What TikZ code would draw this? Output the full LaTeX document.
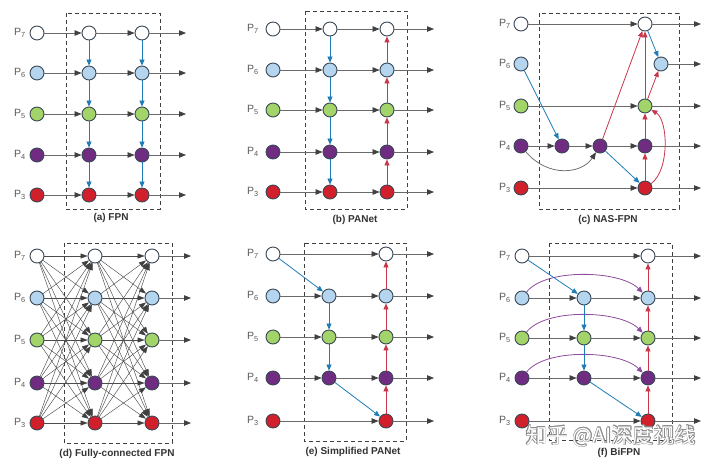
\documentclass[tikz,border=0pt]{standalone}
\usepackage{fontspec}
\setmainfont{Liberation Sans}
\newfontfamily\cjk{Noto Sans CJK SC}
\usetikzlibrary{arrows.meta}
\definecolor{ndedge}{HTML}{3A4856}
\definecolor{lblue}{HTML}{B5D5EF}
\definecolor{lgreen}{HTML}{A3D46A}
\definecolor{dpurple}{HTML}{6F2C80}
\definecolor{dred}{HTML}{D11F2C}
\definecolor{arrgray}{HTML}{6A6A6A}
\definecolor{arrblue}{HTML}{1F7DB6}
\definecolor{arrred}{HTML}{C8384A}
\definecolor{arrpurple}{HTML}{8E4C9E}
\definecolor{labgray}{HTML}{5A5A5A}
\tikzset{
  nd/.style={circle,draw=ndedge,line width=0.9pt,minimum size=14pt,inner sep=0pt},
  c7/.style={fill=white},
  c6/.style={fill=lblue},
  c5/.style={fill=lgreen},
  c4/.style={fill=dpurple},
  c3/.style={fill=dred},
  ar/.style={draw=arrgray,line width=0.75pt,-{Triangle[length=7pt,width=5.5pt,color=black!75]}},
  fc/.style={draw=black!70,line width=0.45pt,-{Triangle[length=7pt,width=5pt,color=black!75]}},
  bl/.style={draw=arrblue,line width=0.8pt,-{Triangle[length=6pt,width=5pt,color=arrblue]}},
  rd/.style={draw=arrred,line width=0.8pt,-{Triangle[length=6pt,width=5pt,color=arrred]}},
  pp/.style={draw=arrpurple,line width=0.8pt,-{Triangle[length=6pt,width=5pt,color=arrpurple]}},
  cg/.style={draw=arrgray,line width=0.75pt,-{Triangle[length=7pt,width=5.5pt,color=black!75]}},
  box/.style={draw=black!75,line width=0.7pt,dash pattern=on 4pt off 3pt},
  lab/.style={text=labgray,font=\fontsize{10.5}{12}\selectfont,inner sep=0pt},
  captxt/.style={text=black!80,font=\bfseries\fontsize{10}{12}\selectfont,inner sep=0pt},
  wm/.style={font=\cjk\fontsize{21}{24}\selectfont,inner sep=0pt},
}
\begin{document}
\begin{tikzpicture}[x=1pt,y=-1pt]
\useasboundingbox (0,0) rectangle (716,467);
\fill[white] (0,0) rectangle (716,467);

% ---------------- (a) FPN
\draw[box] (66,13) rectangle (160,209);
\foreach \n/\y/\c in {7/33/c7,6/73/c6,5/114/c5,4/155/c4,3/195/c3}{
  \node[lab] (aL\n) at (20,\y) {P\textsubscript{\n}};
  \node[nd,\c] (aI\n) at (37,\y) {};
  \node[nd,\c] (aA\n) at (89,\y) {};
  \node[nd,\c] (aB\n) at (142,\y) {};
  \coordinate (aE\n) at (186,\y);
  \draw[ar] (aI\n) -- (aA\n);
  \draw[ar] (aA\n) -- (aB\n);
  \draw[ar] (aB\n) -- (aE\n);
}
\foreach \u/\d in {7/6,6/5,5/4,4/3}{
  \draw[bl] (aA\u) -- (aA\d);
  \draw[bl] (aB\u) -- (aB\d);
}
\node[captxt] (aC) at (111,218) {(a) FPN};

% ---------------- (b) PANet
\draw[box] (305,11) rectangle (407,209);
\foreach \n/\y/\c in {7/29/c7,6/70/c6,5/110/c5,4/152/c4,3/192/c3}{
  \node[lab] (bL\n) at (253,\y) {P\textsubscript{\n}};
  \node[nd,\c] (bI\n) at (273,\y) {};
  \node[nd,\c] (bA\n) at (330,\y) {};
  \node[nd,\c] (bB\n) at (387,\y) {};
  \coordinate (bE\n) at (434,\y);
  \draw[ar] (bI\n) -- (bA\n);
  \draw[ar] (bA\n) -- (bB\n);
  \draw[ar] (bB\n) -- (bE\n);
}
\foreach \u/\d in {7/6,6/5,5/4,4/3}{
  \draw[bl] (bA\u) -- (bA\d);
  \draw[rd] (bB\d) -- (bB\u);
}
\node[captxt] (bC) at (355,220) {(b) PANet};

% ---------------- (c) NAS-FPN
\draw[box] (539,13) rectangle (679,209);
\foreach \n/\y/\c in {7/24/c7,6/64/c6,5/106/c5,4/146/c4,3/188/c3}{
  \node[lab] (cL\n) at (505,\y) {P\textsubscript{\n}};
  \node[nd,\c] (cI\n) at (521,\y) {};
  \coordinate (cE\n) at (701,\y);
}
\node[nd,c4] (cM1) at (562,146) {};
\node[nd,c4] (cM2) at (600,146) {};
\node[nd,c7] (cO7) at (645,24) {};
\node[nd,c6] (cO6) at (661,64) {};
\node[nd,c5] (cO5) at (645,106) {};
\node[nd,c4] (cO4) at (645,146) {};
\node[nd,c3] (cO3) at (645,188) {};
\draw[ar] (cI7) -- (cO7);
\draw[ar] (cI5) -- (cO5);
\draw[ar] (cI3) -- (cO3);
\draw[ar] (cI4) -- (cM1);
\draw[ar] (cM1) -- (cM2);
\draw[ar] (cM2) -- (cO4);
\draw[cg] (cI4) .. controls (548,178) and (582,174) .. (cM2);
\draw[bl] (cI6) -- (cM1);
\draw[bl] (cM2) -- (cO3);
\draw[rd] (cM2) -- (cO7);
\draw[rd] (cO3) -- (cO4);
\draw[rd] (cO4) -- (cO5);
\draw[rd] (cO5) -- (cO7);
\draw[rd] (cO5) -- (cO6);
\draw[bl] (cO7) -- (cO6);
\draw[rd] (cO3) .. controls (670,170) and (668,120) .. (cO5);
\draw[ar] (cO7) -- (cE7);
\draw[ar] (cO6) -- (cE6);
\draw[ar] (cO5) -- (cE5);
\draw[ar] (cO4) -- (cE4);
\draw[ar] (cO3) -- (cE3);
\node[captxt] (cC) at (608,220) {(c) NAS-FPN};

% ---------------- (d) Fully-connected FPN
\draw[box] (64,243) rectangle (172,443);
\foreach \n/\y/\c in {7/256/c7,6/298/c6,5/340/c5,4/383/c4,3/423/c3}{
  \node[lab] (dL\n) at (20,\y) {P\textsubscript{\n}};
  \node[nd,\c] (dI\n) at (37,\y) {};
  \node[nd,\c] (dA\n) at (95,\y) {};
  \node[nd,\c] (dB\n) at (152,\y) {};
  \coordinate (dE\n) at (191,\y);
}
\foreach \s in {7,6,5,4,3}{
  \foreach \t in {7,6,5,4,3}{
    \draw[fc] (dI\s) -- (dA\t);
    \draw[fc] (dA\s) -- (dB\t);
  }
  \draw[ar] (dB\s) -- (dE\s);
}
\node[captxt] (dC) at (117,454) {(d) Fully-connected FPN};

% ---------------- (e) Simplified PANet
\draw[box] (304,243) rectangle (406,441);
\foreach \n/\y/\c in {7/254/c7,6/296/c6,5/337/c5,4/378/c4,3/421/c3}{
  \node[lab] (eL\n) at (253,\y) {P\textsubscript{\n}};
  \node[nd,\c] (eI\n) at (273,\y) {};
  \node[nd,\c] (eB\n) at (386,\y) {};
  \coordinate (eE\n) at (434,\y);
  \draw[ar] (eB\n) -- (eE\n);
}
\foreach \n/\y/\c in {6/296/c6,5/337/c5,4/378/c4}{
  \node[nd,\c] (eA\n) at (329,\y) {};
  \draw[ar] (eI\n) -- (eA\n);
  \draw[ar] (eA\n) -- (eB\n);
}
\draw[ar] (eI7) -- (eB7);
\draw[ar] (eI3) -- (eB3);
\draw[bl] (eI7) -- (eA6);
\draw[bl] (eA6) -- (eA5);
\draw[bl] (eA5) -- (eA4);
\draw[bl] (eA4) -- (eB3);
\foreach \u/\d in {7/6,6/5,5/4,4/3}{
  \draw[rd] (eB\d) -- (eB\u);
}
\node[captxt] (eC) at (353,452) {(e) Simplified PANet};

% ---------------- (f) BiFPN
\draw[box] (549,243) rectangle (672,440);
\foreach \n/\y/\c in {7/256/c7,6/298/c6,5/338/c5,4/378/c4,3/421/c3}{
  \node[lab] (fL\n) at (505,\y) {P\textsubscript{\n}};
  \node[nd,\c] (fI\n) at (522,\y) {};
  \node[nd,\c] (fB\n) at (648,\y) {};
  \coordinate (fE\n) at (701,\y);
  \draw[ar] (fB\n) -- (fE\n);
}
\foreach \n/\y/\c in {6/298/c6,5/338/c5,4/378/c4}{
  \node[nd,\c] (fA\n) at (584,\y) {};
  \draw[ar] (fI\n) -- (fA\n);
  \draw[ar] (fA\n) -- (fB\n);
  \draw[pp] (fI\n) .. controls (545,\y-30) and (620,\y-28) .. (fB\n);
}
\draw[ar] (fI7) -- (fB7);
\draw[ar] (fI3) -- (fB3);
\draw[bl] (fI7) -- (fA6);
\draw[bl] (fA6) -- (fA5);
\draw[bl] (fA5) -- (fA4);
\draw[bl] (fA4) -- (fB3);
\foreach \u/\d in {7/6,6/5,5/4,4/3}{
  \draw[rd] (fB\d) -- (fB\u);
}
% watermark
\foreach \i/\dx/\dy in {1/0.7/0,2/-0.7/0,3/0/0.7,4/0/-0.7,5/0.5/0.5,6/-0.5/0.5,7/0.5/-0.5,8/-0.5/-0.5}{
  \node[wm,text=black!45] (wmo\i) at (611+\dx,436+\dy) {知乎 @AI深度视线};
}
\node[wm,text=white] (wm) at (611,436) {知乎 @AI深度视线};
\node[captxt] (fC) at (619,453) {(f) BiFPN};
\end{tikzpicture}
\end{document}
